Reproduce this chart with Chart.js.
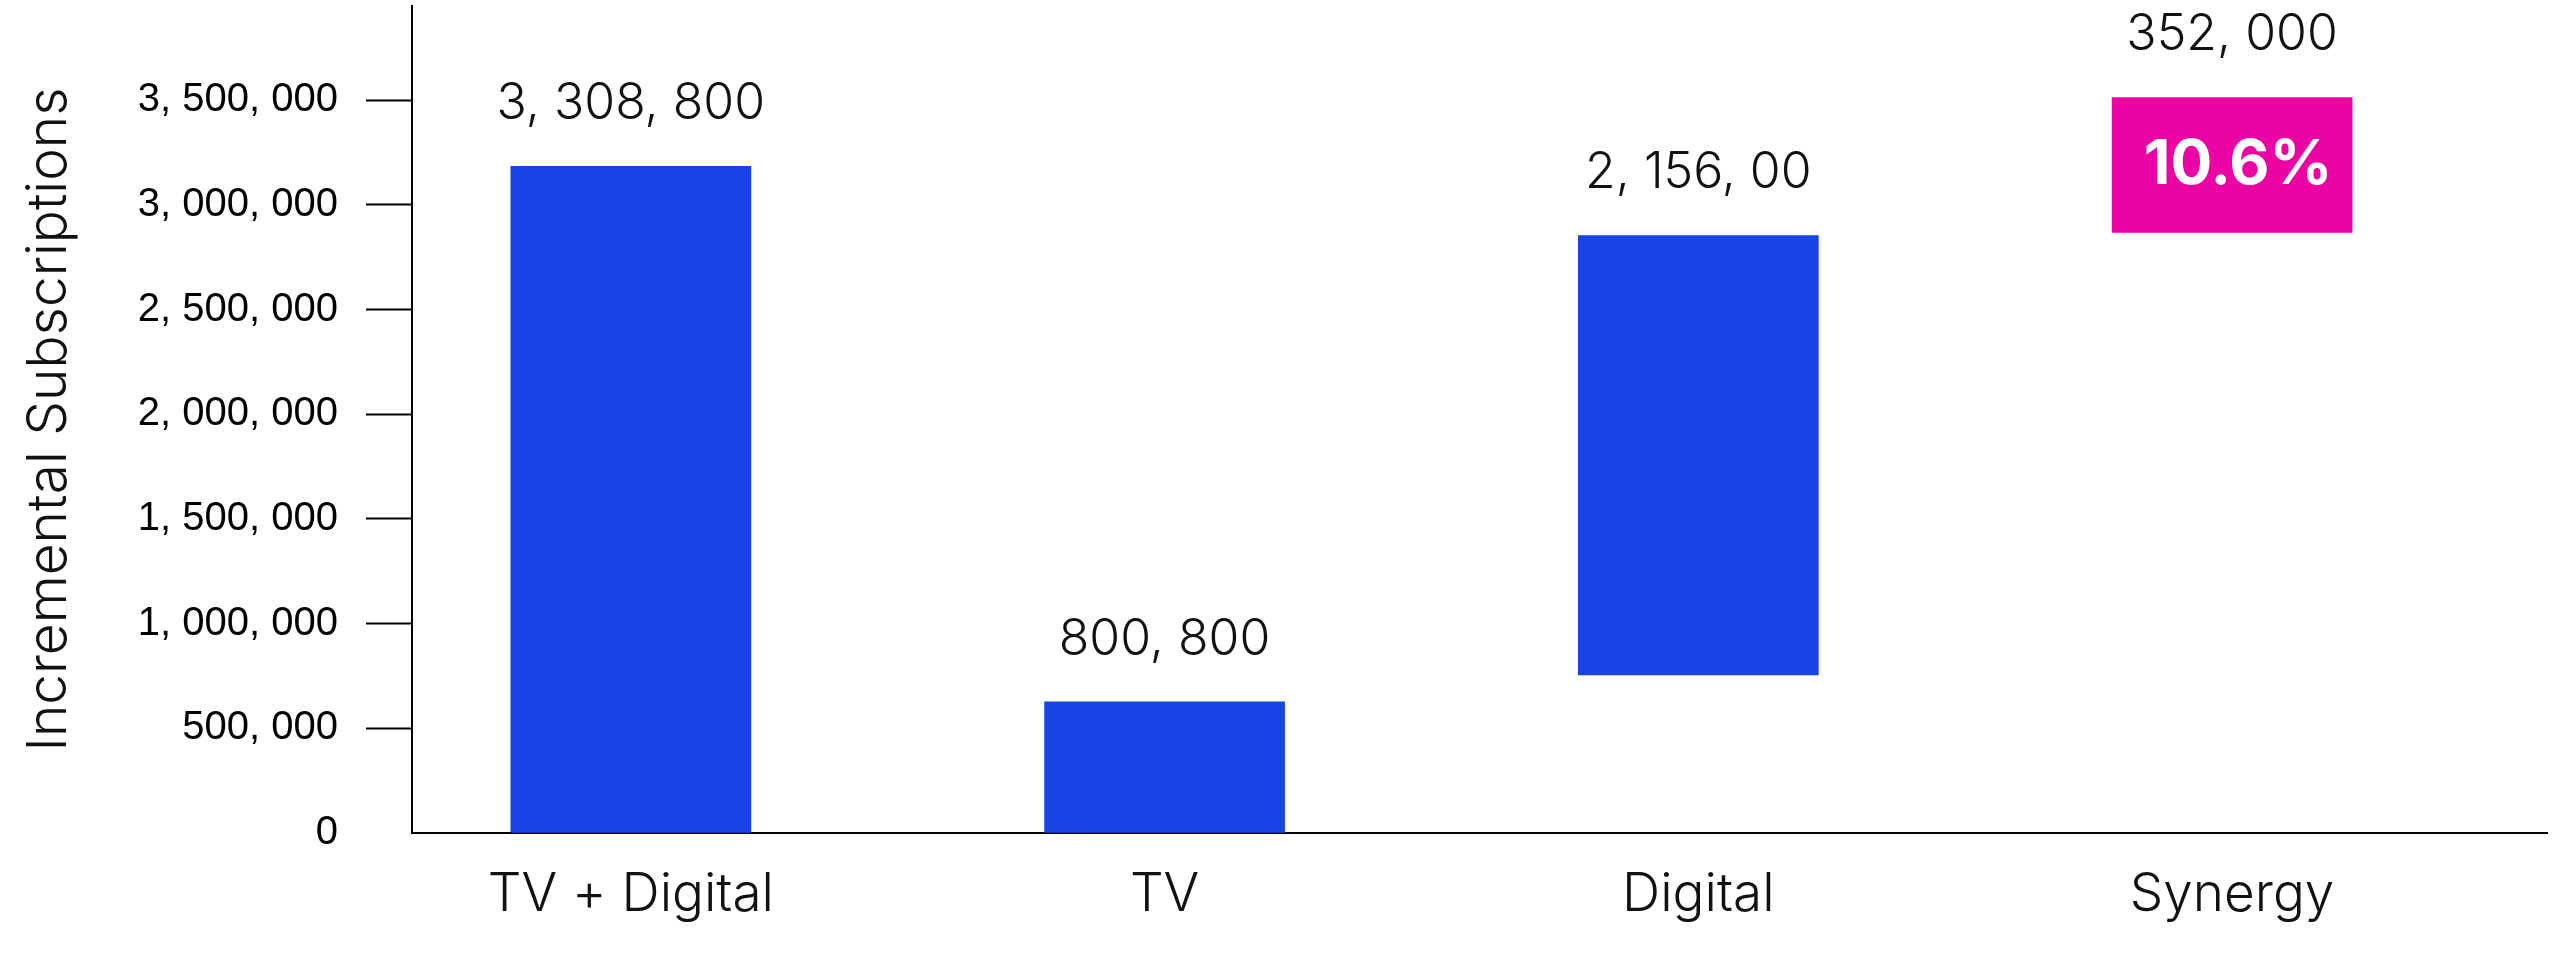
<!DOCTYPE html>
<html>
<head>
<meta charset="utf-8">
<script src="https://cdn.jsdelivr.net/npm/chart.js@4.4.1/dist/chart.umd.min.js"></script>
<style>
  html, body { margin: 0; padding: 0; background: #ffffff; }
  #wrap { width: 2552px; height: 959px; position: relative; }
</style>
</head>
<body>
<div id="wrap"><canvas id="c"></canvas></div>
<script>
// ---- data ----
const categories = ['TV + Digital', 'TV', 'Digital', 'Synergy'];
const categoryIndex = [0, 1, 2, 3];
const barStart = [0, 0, 755000, 2868000];
const barEnd = [3184000, 626000, 2854000, 3513000];
const valueLabels = ['3, 308, 800', '800, 800', '2, 156, 00', '352, 000'];
const synergyShare = '10.6%';
const yTickValues = [0, 500000, 1000000, 1500000, 2000000, 2500000, 3000000, 3500000];
const yTickLabels = ['0', '500, 000', '1, 000, 000', '1, 500, 000', '2, 000, 000', '2, 500, 000', '3, 000, 000', '3, 500, 000'];
const yAxisTitle = 'Incremental Subscriptions';

const BLUE = '#1843E6';
const PINK = '#EC03A3';
const LABEL_FONT = 'Inter, "Noto Sans", sans-serif';

const barData = categoryIndex.map((x, i) => ({ x: x, y: [barStart[i], barEnd[i]] }));

const labelPlugin = {
  id: 'valueLabels',
  afterDatasetsDraw(chart) {
    const ctx = chart.ctx;
    const meta = chart.getDatasetMeta(0);
    ctx.save();
    ctx.textAlign = 'center';
    ctx.textBaseline = 'alphabetic';
    ctx.fillStyle = '#111111';
    ctx.font = '300 50px ' + LABEL_FONT;
    meta.data.forEach((bar, i) => {
      const top = Math.min(bar.y, bar.base);
      ctx.fillText(valueLabels[i], bar.x, top - 47);
    });
    const pb = meta.data[3];
    ctx.fillStyle = '#ffffff';
    ctx.font = '700 62px ' + LABEL_FONT;
    ctx.textBaseline = 'middle';
    ctx.fillText(synergyShare, pb.x + 6, (pb.y + pb.base) / 2);
    ctx.restore();
  }
};

new Chart(document.getElementById('c'), {
  type: 'bar',
  data: {
    datasets: [{
      data: barData,
      backgroundColor: [BLUE, BLUE, BLUE, PINK],
      borderWidth: 0,
      barThickness: 240
    }]
  },
  options: {
    responsive: true,
    maintainAspectRatio: false,
    devicePixelRatio: 1,
    animation: false,
    layout: { padding: { left: 0, right: 5, top: 6, bottom: 0 } },
    plugins: { legend: { display: false }, tooltip: { enabled: false } },
    scales: {
      x: {
        type: 'linear',
        offset: false,
        min: -0.41,
        max: 3.59,
        afterBuildTicks(scale) { scale.ticks = categoryIndex.map(v => ({ value: v })); },
        afterFit(scale) { scale.height = 126; scale.paddingLeft = 0; scale.paddingRight = 0; },
        grid: { display: true, offset: false, drawOnChartArea: false, drawTicks: false },
        border: { display: true, color: '#000000', width: 2 },
        ticks: {
          autoSkip: false,
          maxRotation: 0,
          padding: 30,
          color: '#111111',
          font: { family: LABEL_FONT, size: 53, weight: '300' },
          callback: (v) => categories[v]
        }
      },
      y: {
        min: 0,
        max: 3950000,
        afterBuildTicks(scale) { scale.ticks = yTickValues.map(v => ({ value: v })); },
        afterFit(scale) { scale.width = 412; scale.paddingTop = 0; scale.paddingBottom = 0; },
        grid: {
          display: true,
          drawOnChartArea: false,
          drawTicks: true,
          tickLength: 46,
          tickWidth: 2,
          tickColor: (c) => (c.tick && c.tick.value === 0) ? 'rgba(0,0,0,0)' : '#000000'
        },
        border: { display: true, color: '#000000', width: 2 },
        ticks: {
          padding: 28,
          color: '#000000',
          font: { family: '"Liberation Sans", Arial, sans-serif', size: 40 },
          callback: (v) => yTickLabels[yTickValues.indexOf(v)]
        },
        title: {
          display: true,
          text: yAxisTitle,
          color: '#111111',
          font: { family: LABEL_FONT, size: 55, weight: '300' },
          padding: { top: 16, bottom: 0 }
        }
      }
    }
  },
  plugins: [labelPlugin]
});
</script>
</body>
</html>
